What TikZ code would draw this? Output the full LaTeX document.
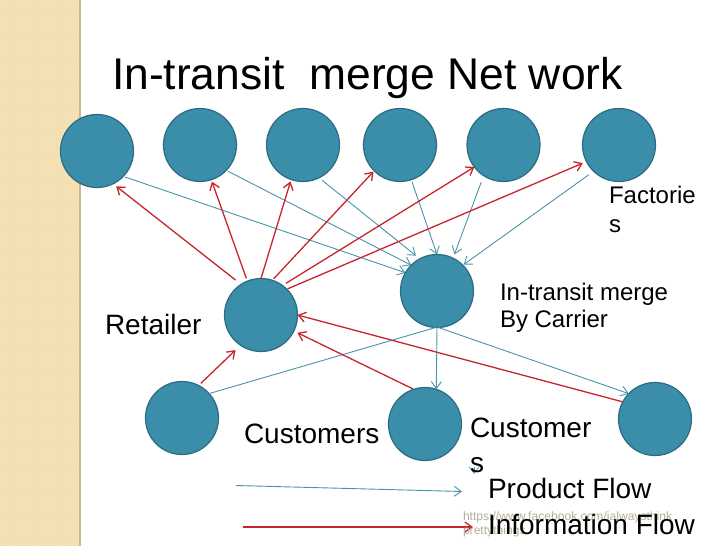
\documentclass[tikz,border=0pt]{standalone}
\usepackage{fontspec}
\setmainfont{Liberation Sans}
\usetikzlibrary{arrows.meta,patterns}
\definecolor{hubfill}{RGB}{59,142,169}
\definecolor{hubedge}{RGB}{42,108,130}
\definecolor{prodblue}{RGB}{74,148,170}
\definecolor{infored}{RGB}{200,36,44}
\definecolor{bandtan}{RGB}{243,222,174}
\definecolor{banddot}{RGB}{249,236,205}
\definecolor{bandedge}{RGB}{200,184,140}
\definecolor{markgray}{RGB}{182,172,152}
\tikzset{
  hub/.style={circle, fill=hubfill, draw=hubedge, line width=1.2pt, minimum size=73pt, inner sep=0pt, outer sep=0pt},
  lbl/.style={anchor=base west, inner sep=0pt, outer sep=0pt, align=left},
  prod/.style={->, draw=prodblue, line width=0.9pt},
  info/.style={->, draw=infored, line width=1.3pt}
}
\begin{document}
\begin{tikzpicture}[x=1pt, y=-1pt, >={Straight Barb[length=7pt, width=10pt]}]
  \useasboundingbox (0, 0) rectangle (728, 546);
  \fill[bandtan] (0, 0) rectangle (79, 546);
  \fill[pattern=crosshatch dots, pattern color=banddot] (0, 0) rectangle (79, 546);
  \fill[bandedge] (79, 0) rectangle (81, 546);

  \node[lbl, font=\fontsize{44.4}{50}\selectfont] (title) at (112, 89) {In-transit\ \ merge Net work};

  % factories
  \node[hub] (fact1) at (97, 151) {};
  \node[hub] (fact2) at (200, 145) {};
  \node[hub] (fact3) at (303, 145) {};
  \node[hub] (fact4) at (400, 145) {};
  \node[hub] (fact5) at (503.5, 145) {};
  \node[hub] (fact6) at (619, 145) {};
  \node[hub] (merge) at (437, 291) {};
  \node[hub] (retailer) at (261, 315) {};
  \node[hub] (cust1) at (182, 418) {};
  \node[hub] (cust2) at (425, 424) {};
  \node[hub] (cust3) at (655, 419) {};

  % product flow
  \draw[prod, shorten <=2pt] (fact1.-44) -- (merge.150);
  \draw[prod, shorten <=2pt] (fact2.-44) -- (merge.135);
  \draw[prod, shorten <=4pt, shorten >=5pt] (fact3.-64) -- (merge.118);
  \draw[prod, shorten <=2pt] (fact4.-72) -- (merge.90);
  \draw[prod, shorten <=7pt, shorten >=4pt] (fact5.-123) -- (merge.64);
  \draw[prod, shorten <=6pt, shorten >=1pt] (fact6.-134) -- (merge.45);
  \draw[prod, -] (merge.-92) -- (cust1.42);
  \draw[prod] (merge.-90) -- (cust2.72);
  \draw[prod] (merge.-88) -- (cust3.136);

  % information flow
  \draw[info, shorten <=7pt, shorten >=4pt] (retailer.123) -- (fact1.-64);
  \draw[info, shorten <=3pt, shorten >=2pt] (retailer.112) -- (fact2.-72);
  \draw[info, shorten >=2pt] (retailer.90) -- (fact3.-109);
  \draw[info, shorten <=2pt, shorten >=1pt] (retailer.72) -- (fact4.-135);
  \draw[info, shorten <=4pt] (retailer.54) -- (fact5.-143);
  \draw[info, shorten <=1pt, shorten >=4pt] (retailer.45) -- (fact6.-153);
  \draw[info, shorten <=3pt, shorten >=7pt] (cust1.63) -- (retailer.-124);
  \draw[info, shorten <=1pt, shorten >=4pt] (cust2.108) -- (retailer.-26);
  \draw[info] (cust3.152) -- (retailer.0);

  % legend
  \coordinate (prodfrom) at (236, 485.5);
  \coordinate (prodto) at (462, 491.5);
  \coordinate (infofrom) at (243, 527);
  \coordinate (infoto) at (473, 527);
  \coordinate (stubfrom) at (474, 467);
  \coordinate (stubto) at (474, 474);
  \draw[prod] (prodfrom) -- (prodto);
  \draw[info] (infofrom) -- (infoto);
  \draw[prod, line width=0.6pt] (stubfrom) -- (stubto);

  \node[lbl, text=markgray, font=\fontsize{12.1}{14}\selectfont] (mark) at (463, 534) {https://www.facebook.com/ialwaysthink\\prettythings};

  \node[lbl, font=\fontsize{24}{29}\selectfont] (factlbl) at (609, 232) {Factorie\\s};
  \node[lbl, font=\fontsize{24}{27}\selectfont] (mergelbl) at (500, 327) {In-transit merge\\By Carrier};
  \node[lbl, font=\fontsize{28}{34}\selectfont] (retlbl) at (105, 334) {Retailer};
  \node[lbl, font=\fontsize{28}{34}\selectfont] (custlbl) at (244, 443) {Customers};
  \node[lbl, font=\fontsize{28}{35}\selectfont] (custlblb) at (470, 472) {Customer\\s};
  \node[lbl, font=\fontsize{28}{34}\selectfont] (prodlbl) at (488, 498) {Product Flow};
  \node[lbl, font=\fontsize{28}{34}\selectfont] (infolbl) at (488, 534) {Information Flow};
\end{tikzpicture}
\end{document}
